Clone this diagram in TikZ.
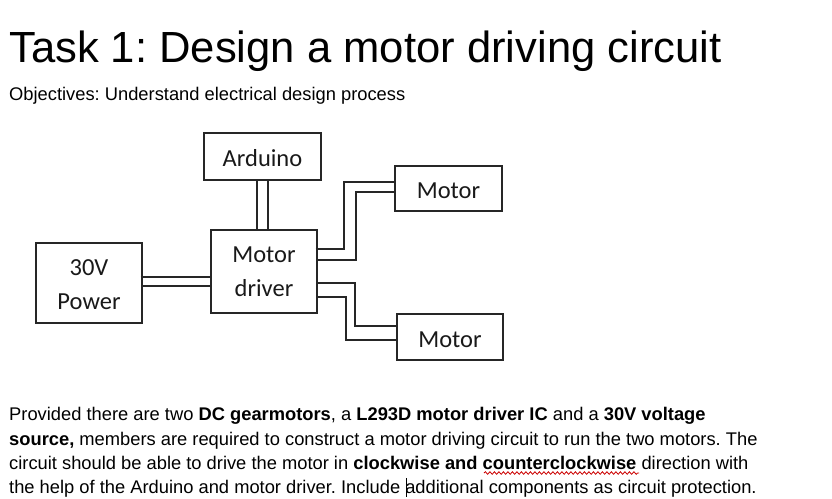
\documentclass[tikz,border=0pt]{standalone}
\usepackage{fontspec}
\setmainfont{Liberation Sans}
\newfontfamily\boxfont{Carlito}
\usetikzlibrary{decorations.pathmorphing}
\tikzset{
  blockbox/.style={draw=black!85,line width=1.15pt,rectangle,inner sep=0pt,font=\boxfont\fontsize{24.5}{34}\selectfont,align=center,text=black!90,execute at begin node={\rule{0pt}{#1}}},
  wire/.style={draw=black!85,line width=1.15pt},
  txt/.style={anchor=base west,inner sep=0pt,text=black},
  bodytxt/.style={txt,font=\fontsize{18.32}{22}\selectfont},
  squiggle/.style={draw=red!80!black,line width=0.8pt,decorate,decoration={snake,amplitude=1.3pt,segment length=4.5pt}}
}
\begin{document}
\frenchspacing
\begin{tikzpicture}[x=1pt,y=-1pt]
\useasboundingbox (0,0) rectangle (832,498);
\fill[white] (0,0) rectangle (832,498);
\node[txt,font=\fontsize{43.6}{50}\selectfont] (title) at (9,62) {Task 1: Design a motor driving circuit};
\node[bodytxt] (obj) at (9,100) {Objectives: Understand electrical design process};

\node[blockbox=20pt,minimum width=117pt,minimum height=47pt] (ard) at (262.5,156.5) {Arduino};
\node[blockbox=23pt,minimum width=106pt,minimum height=83pt] (drv) at (264,271.5) {Motor\\driver};
\node[blockbox=23pt,minimum width=106pt,minimum height=80pt] (pwr) at (89,283) {\smash{\raisebox{-9pt}{30V}}\\\smash{\raisebox{-9pt}{Power}}};
\node[blockbox=21pt,minimum width=107pt,minimum height=45pt] (mot1) at (448.5,188.5) {Motor};
\node[blockbox=21pt,minimum width=106pt,minimum height=46pt] (mot2) at (450,337) {Motor};

\draw[wire] ([xshift=-5.5pt]ard.south) -- ([xshift=-7pt]drv.north);
\draw[wire] ([xshift=5.5pt]ard.south) -- ([xshift=4pt]drv.north);
\draw[wire] ([xshift=-2pt,yshift=6pt]pwr.east) -- ([yshift=-5.5pt]drv.west);
\draw[wire] ([yshift=-3pt]pwr.east) -- ([yshift=-14.5pt]drv.west);
\draw[wire] ([xshift=-2pt,yshift=22.5pt]drv.east) -- (344,249) -- (344,182) -- ([yshift=6.5pt]mot1.west);
\draw[wire] ([yshift=11.5pt]drv.east) -- (356,260) -- (356,192) -- ([yshift=-3.5pt]mot1.west);
\draw[wire] ([yshift=-11.5pt]drv.east) -- (355,283) -- (355,326) -- ([yshift=11pt]mot2.west);
\draw[wire] ([yshift=-25.5pt]drv.east) -- (346,297) -- (346,340) -- ([yshift=-3pt]mot2.west);

\node[bodytxt] (l1) at (9,420.5) {Provided there are two \textbf{DC gearmotors}, a \textbf{L293D motor driver IC} and a \textbf{30V voltage}};
\node[bodytxt] (l2) at (9,445.5) {\textbf{source,} members are required to construct a motor driving circuit to run the two motors. The};
\node[bodytxt] (l3) at (9,469.5) {circuit should be able to drive the motor in \textbf{clockwise and counterclockwise} direction with};
\node[bodytxt] (l4) at (9,493.5) {the help of the Arduino and motor driver. Include additional components as circuit protection.};
\draw[squiggle] (484,473) -- (639,473);
\draw[black,line width=0.9pt] (406,478) -- (406,497);
\end{tikzpicture}
\end{document}
